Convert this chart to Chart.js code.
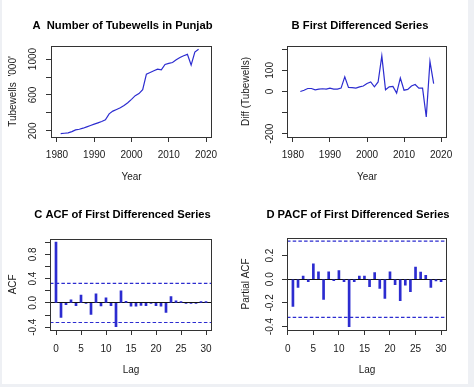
<!DOCTYPE html>
<html>
<head>
<meta charset="utf-8">
<script src="https://cdn.jsdelivr.net/npm/chart.js@4.4.0/dist/chart.umd.min.js"></script>
<style>
  html, body { margin: 0; padding: 0; background: #eef0f4; }
  #wrap { position: absolute; left: 0; top: 0; width: 474px; height: 387px; overflow: hidden; }
  #sheet { position: absolute; left: 2px; top: 0; width: 466px; height: 384px; background: #fff; }
  canvas { position: absolute; }
</style>
</head>
<body>
<div id="wrap">
  <div id="sheet"></div>
  <canvas id="chartA" width="245" height="195" style="left:0px;top:0px"></canvas>
  <canvas id="chartB" width="240" height="195" style="left:240px;top:0px"></canvas>
  <canvas id="chartC" width="245" height="192" style="left:0px;top:195px"></canvas>
  <canvas id="chartD" width="240" height="192" style="left:238px;top:195px"></canvas>
</div>
<script>
// ---- data ----
var years = [1981, 1982, 1983, 1984, 1985, 1986, 1987, 1988, 1989, 1990,
             1991, 1992, 1993, 1994, 1995, 1996, 1997, 1998, 1999, 2000,
             2001, 2002, 2003, 2004, 2005, 2006, 2007, 2008, 2009, 2010,
             2011, 2012, 2013, 2014, 2015, 2016, 2017, 2018];
var tubewells = [170, 174, 178, 192, 211, 218, 230, 245, 260, 275,
                 290, 305, 323, 390, 420, 439, 458, 484, 514, 551,
                 592, 615, 660, 832, 850, 869, 888, 880, 940, 951,
                 962, 992, 1018, 1037, 1052, 933, 1078, 1108];

var diffYears = [1982, 1983, 1984, 1985, 1986, 1987, 1988, 1989, 1990,
                 1991, 1992, 1993, 1994, 1995, 1996, 1997, 1998, 1999, 2000,
                 2001, 2002, 2003, 2004, 2005, 2006, 2007, 2008, 2009, 2010,
                 2011, 2012, 2013, 2014, 2015, 2016, 2017, 2018];
var diffValues = [0, 6, 14, 14, 8, 11, 13, 11, 16,
                  11, 11, 16, 69, 19, 18, 16, 22, 26, 38,
                  45, 22, 45, 169, 8, 22, 24, -8, 64, 6,
                  10, 26, 33, 16, 16, -121, 142, 37];

var acfLags = [0, 1, 2, 3, 4, 5, 6, 7, 8, 9, 10, 11, 12, 13, 14, 15,
               16, 17, 18, 19, 20, 21, 22, 23, 24, 25, 26, 27, 28, 29, 30];
var acfValues = [1.0, -0.24, -0.03, 0.05, -0.045, 0.13, -0.01, -0.19, 0.15, -0.05, 0.083,
                 -0.045, -0.39, 0.2, 0.028, -0.055, -0.055, -0.04, -0.045, -0.005, -0.045,
                 -0.055, -0.155, 0.105, 0.033, 0.022, -0.01, -0.01, -0.005, 0.02, 0.02];

var pacfLags = [1, 2, 3, 4, 5, 6, 7, 8, 9, 10, 11, 12, 13, 14, 15,
                16, 17, 18, 19, 20, 21, 22, 23, 24, 25, 26, 27, 28, 29, 30];
var pacfValues = [-0.23, -0.07, 0.026, -0.02, 0.13, 0.063, -0.17, 0.063, -0.011, 0.074,
                  -0.02, -0.40, -0.02, 0.026, 0.026, -0.063, 0.057, -0.077, -0.163, 0.063,
                  -0.046, -0.18, -0.051, -0.106, 0.103, 0.06, 0.034, -0.069, -0.014, -0.02];

var confLimit = 0.322;

// ---- ticks ----
var yearTicks = [1980, 1990, 2000, 2010, 2020];
var lagTicks = [0, 5, 10, 15, 20, 25, 30];
var tubewellTicks = [200, 400, 600, 800, 1000];
var tubewellLabels = [200, 600, 1000];
var diffTicks = [-200, -100, 0, 100, 200];
var diffLabels = [-200, 0, 100];
var acfTicks = [-0.4, -0.2, 0, 0.2, 0.4, 0.6, 0.8, 1.0];
var acfLabels = [-0.4, 0, 0.4, 0.8];
var pacfTicks = [-0.4, -0.2, 0, 0.2];
var pacfLabels = [-0.4, -0.2, 0, 0.2];

var FONT = "'Liberation Sans', Arial, Helvetica, sans-serif";
var TEXT = '#1a1a1a';
var AXIS = '#333333';
var BLUE = '#2c2cd0';

// plot frame like R's box()
var boxPlugin = {
    id: 'box',
    afterDraw: function(chart) {
        var a = chart.chartArea;
        var ctx = chart.ctx;
        ctx.save();
        ctx.strokeStyle = AXIS;
        ctx.lineWidth = 1;
        ctx.strokeRect(Math.round(a.left) + 0.5, Math.round(a.top) + 0.5,
                       Math.round(a.right - a.left) - 1, Math.round(a.bottom - a.top));
        ctx.restore();
    }
};

function pts(xs, ys) {
    return xs.map(function(x, i) { return { x: x, y: ys[i] }; });
}

function limitLine(xMin, xMax, v) {
    return {
        type: 'line',
        data: [{ x: xMin, y: v }, { x: xMax, y: v }],
        borderColor: BLUE,
        borderWidth: 1.2,
        borderDash: [3.5, 2.2],
        pointRadius: 0
    };
}

function makeChart(id, p) {
    return new Chart(document.getElementById(id), {
        type: p.type,
        data: { datasets: p.datasets },
        plugins: [boxPlugin],
        options: {
            responsive: false,
            animation: false,
            devicePixelRatio: 1,
            layout: { padding: 0 },
            scales: {
                x: {
                    type: 'linear',
                    min: p.xMin,
                    max: p.xMax,
                    offset: false,
                    afterBuildTicks: function(s) { s.ticks = p.xTicks.map(function(v) { return { value: v }; }); },
                    afterFit: function(s) { s.height = p.xHeight; },
                    border: { display: false },
                    grid: { offset: false, drawOnChartArea: false, drawTicks: true, tickLength: 5, tickColor: AXIS },
                    ticks: {
                        autoSkip: false, maxRotation: 0, minRotation: 0,
                        padding: p.xTickPad, color: TEXT,
                        font: { family: FONT, size: 10 },
                        callback: function(v) { return String(v); }
                    },
                    title: {
                        display: true, text: p.xTitle, color: TEXT,
                        font: { family: FONT, size: 10 },
                        padding: { top: 0, bottom: p.xTitlePad }
                    }
                },
                y: {
                    type: 'linear',
                    min: p.yMin,
                    max: p.yMax,
                    afterBuildTicks: function(s) { s.ticks = p.yTicks.map(function(v) { return { value: v }; }); },
                    afterFit: function(s) { s.width = p.yWidth; },
                    border: { display: false },
                    grid: {
                        drawOnChartArea: !!p.zeroLine,
                        color: function(c) { return c.tick && c.tick.value === 0 ? '#111' : 'rgba(0,0,0,0)'; },
                        drawTicks: true, tickLength: 5, tickColor: AXIS
                    },
                    ticks: {
                        autoSkip: false, minRotation: 90, maxRotation: 90,
                        crossAlign: 'center', padding: p.yTickPad, color: TEXT,
                        font: { family: FONT, size: 10 },
                        callback: function(v) { return p.yLabels.indexOf(v) >= 0 ? p.fmt(v) : ''; }
                    },
                    title: {
                        display: true, text: p.yTitle, color: TEXT,
                        font: { family: FONT, size: 10 },
                        padding: { top: p.yTitlePad, bottom: 0 }
                    }
                },
                // empty right-hand margin, keeps the full-width title centred like R
                margin: {
                    type: 'linear',
                    position: 'right',
                    display: true,
                    afterFit: function(s) { s.width = p.padRight; },
                    border: { display: false },
                    grid: { display: false },
                    ticks: { display: false }
                }
            },
            plugins: {
                legend: { display: false },
                tooltip: { enabled: false },
                title: {
                    display: true,
                    text: p.title,
                    color: '#000',
                    font: { family: FONT, size: 11.2, weight: 'bold' },
                    padding: { top: p.titleTop, bottom: p.titleBottom }
                }
            }
        }
    });
}

function intFmt(v) { return String(v); }
function decFmt(v) { return v.toFixed(1); }

// A: level series
makeChart('chartA', {
    type: 'line',
    datasets: [{ data: pts(years, tubewells), borderColor: BLUE, borderWidth: 1.2, pointRadius: 0, tension: 0 }],
    title: 'A  Number of Tubewells in Punjab', titleTop: 19.5, titleBottom: 13,
    xMin: 1978.4, xMax: 2021.6, xTicks: yearTicks, xTitle: 'Year',
    yMin: 132, yMax: 1146, yTicks: tubewellTicks, yLabels: tubewellLabels, fmt: intFmt,
    yTitle: "Tubewells  '000'",
    padRight: 33, yWidth: 51, xHeight: 58, xTickPad: 6.8, xTitlePad: 11.5, yTickPad: 1.6, yTitlePad: 7.3
});

// B: first differences
makeChart('chartB', {
    type: 'line',
    datasets: [{ data: pts(diffYears, diffValues), borderColor: BLUE, borderWidth: 1.2, pointRadius: 0, tension: 0 }],
    title: 'B First Differenced Series', titleTop: 19.5, titleBottom: 13,
    xMin: 1978.4, xMax: 2021.6, xTicks: yearTicks, xTitle: 'Year',
    yMin: -216, yMax: 216, yTicks: diffTicks, yLabels: diffLabels, fmt: intFmt,
    yTitle: 'Diff (Tubewells)',
    padRight: 33, yWidth: 47, xHeight: 58, xTickPad: 6.8, xTitlePad: 11.5, yTickPad: 1.7, yTitlePad: 0.5
});

// C: ACF
makeChart('chartC', {
    type: 'bar',
    datasets: [
        { type: 'bar', data: pts(acfLags, acfValues), backgroundColor: BLUE, barThickness: 2 },
        limitLine(-1.2, 31.2, confLimit),
        limitLine(-1.2, 31.2, -confLimit)
    ],
    title: 'C ACF of First Differenced Series', titleTop: 12.7, titleBottom: 17.6,
    xMin: -1.2, xMax: 31.2, xTicks: lagTicks, xTitle: 'Lag',
    yMin: -0.4456, yMax: 1.0556, yTicks: acfTicks, yLabels: acfLabels, fmt: decFmt,
    yTitle: 'ACF', zeroLine: true,
    padRight: 33, yWidth: 50, xHeight: 57, xTickPad: 8.3, xTitlePad: 10.5, yTickPad: 3.6, yTitlePad: 7.3
});

// D: PACF
makeChart('chartD', {
    type: 'bar',
    datasets: [
        { type: 'bar', data: pts(pacfLags, pacfValues), backgroundColor: BLUE, barThickness: 2 },
        limitLine(-0.16, 31.16, confLimit),
        limitLine(-0.16, 31.16, -confLimit)
    ],
    title: 'D PACF of First Differenced Series', titleTop: 13.4, titleBottom: 15.9,
    xMin: -0.16, xMax: 31.16, xTicks: lagTicks, xTitle: 'Lag',
    yMin: -0.429, yMax: 0.351, yTicks: pacfTicks, yLabels: pacfLabels, fmt: decFmt,
    yTitle: 'Partial ACF', zeroLine: true,
    padRight: 31, yWidth: 49, xHeight: 57, xTickPad: 8.3, xTitlePad: 10.5, yTickPad: 3.1, yTitlePad: 2
});
</script>
</body>
</html>
